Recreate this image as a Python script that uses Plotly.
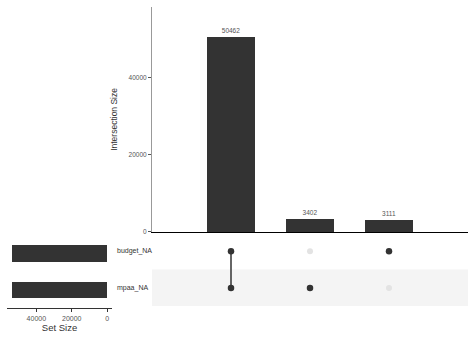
import plotly.graph_objects as go

# ---- data ----
sets = ["mpaa_NA", "budget_NA"]          # bottom to top in matrix
set_sizes = [53864, 53573]
inter_labels = ["budget_NA&mpaa_NA", "mpaa_NA", "budget_NA"]
inter_sizes = [50462, 3402, 3111]
# membership per intersection: which sets are active
membership = [["budget_NA", "mpaa_NA"], ["mpaa_NA"], ["budget_NA"]]
tick_vals = [0, 20000, 40000]
tick_text = ["0", "20000", "40000"]

W, H = 474, 338
def px(x): return x / W
def py(y): return 1 - y / H

DARK = "#333333"
FONT = "Liberation Sans, Arial, sans-serif"

fig = go.Figure()

cols = list(range(1, len(inter_sizes) + 1))

# main intersection bars
fig.add_trace(go.Bar(
    x=cols, y=inter_sizes, width=0.6, marker_color=DARK, marker_line_width=0,
    text=[str(v) for v in inter_sizes], textposition="outside",
    textfont=dict(size=6.5, color="#555555", family=FONT),
    cliponaxis=False, xaxis="x", yaxis="y", showlegend=False, hoverinfo="skip"))

# matrix dots
row_of = {s: i for i, s in enumerate(sets)}
for c, mem in zip(cols, membership):
    act = [row_of[s] for s in sets if s in mem]
    inact = [row_of[s] for s in sets if s not in mem]
    if len(act) > 1:
        fig.add_trace(go.Scatter(x=[c] * len(act), y=sorted(act), mode="lines",
                                 line=dict(color=DARK, width=1.5), xaxis="x2", yaxis="y2",
                                 showlegend=False, hoverinfo="skip"))
    fig.add_trace(go.Scatter(x=[c] * len(inact), y=inact, mode="markers",
                             marker=dict(color="#e3e3e3", size=6), xaxis="x2", yaxis="y2",
                             showlegend=False, hoverinfo="skip"))
    fig.add_trace(go.Scatter(x=[c] * len(act), y=act, mode="markers",
                             marker=dict(color=DARK, size=6.5), xaxis="x2", yaxis="y2",
                             showlegend=False, hoverinfo="skip"))

# set size bars
fig.add_trace(go.Bar(
    x=set_sizes, y=list(range(len(sets))), orientation="h", width=0.45,
    marker_color=DARK, marker_line_width=0, xaxis="x3", yaxis="y3",
    showlegend=False, hoverinfo="skip"))

maxset = max(set_sizes)
xdom = [px(152), px(468)]
mdom = [py(309), py(235)]

fig.update_layout(
    width=W, height=H, margin=dict(l=0, r=0, t=0, b=0),
    paper_bgcolor="white", plot_bgcolor="rgba(0,0,0,0)",
    font=dict(family=FONT, color="#333333"),
    xaxis=dict(domain=xdom, range=[0, 4], showticklabels=False, ticks="",
               showgrid=False, zeroline=False, showline=True, linecolor="black",
               linewidth=1, anchor="y"),
    yaxis=dict(domain=[py(234), py(7)], range=[0, 58200], showgrid=False, zeroline=False,
               showline=True, linecolor="#999999", linewidth=1, ticks="outside",
               ticklen=3, tickcolor="#555555", tickvals=tick_vals, ticktext=tick_text,
               tickfont=dict(size=6.5, color="#555555"),
               title=dict(text="Intersection Size", font=dict(size=8.5, color="#333333"),
                          standoff=9), anchor="x"),
    xaxis2=dict(domain=xdom, range=[0, 4], visible=False, anchor="y2"),
    yaxis2=dict(domain=mdom, range=[-0.5, 1.5], visible=False, anchor="x2"),
    xaxis3=dict(domain=[px(7), px(112)], range=[maxset * 1.05, -maxset * 0.05],
                showgrid=False, zeroline=False, showline=True, linecolor="#333333",
                linewidth=1, ticks="outside", ticklen=3, tickcolor="#333333",
                tickvals=tick_vals, ticktext=tick_text, tickfont=dict(size=7, color="#555555"),
                title=dict(text="Set Size", font=dict(size=9.5, color="#333333"), standoff=2),
                anchor="y3"),
    yaxis3=dict(domain=[py(311), py(237)], range=[-0.5, 1.5], visible=False, anchor="x3"),
    shapes=[dict(type="rect", xref="x2 domain", yref="y2", x0=0, x1=1, y0=-0.5, y1=0.5,
                 fillcolor="#f4f4f4", line_width=0, layer="below")],
    annotations=[dict(text=s, x=px(115), xref="paper", y=i, yref="y2", xanchor="left",
                      showarrow=False, font=dict(size=7, color="#333333"))
                 for i, s in enumerate(sets)],
    bargap=0,
)

fig.write_html("out.html")
